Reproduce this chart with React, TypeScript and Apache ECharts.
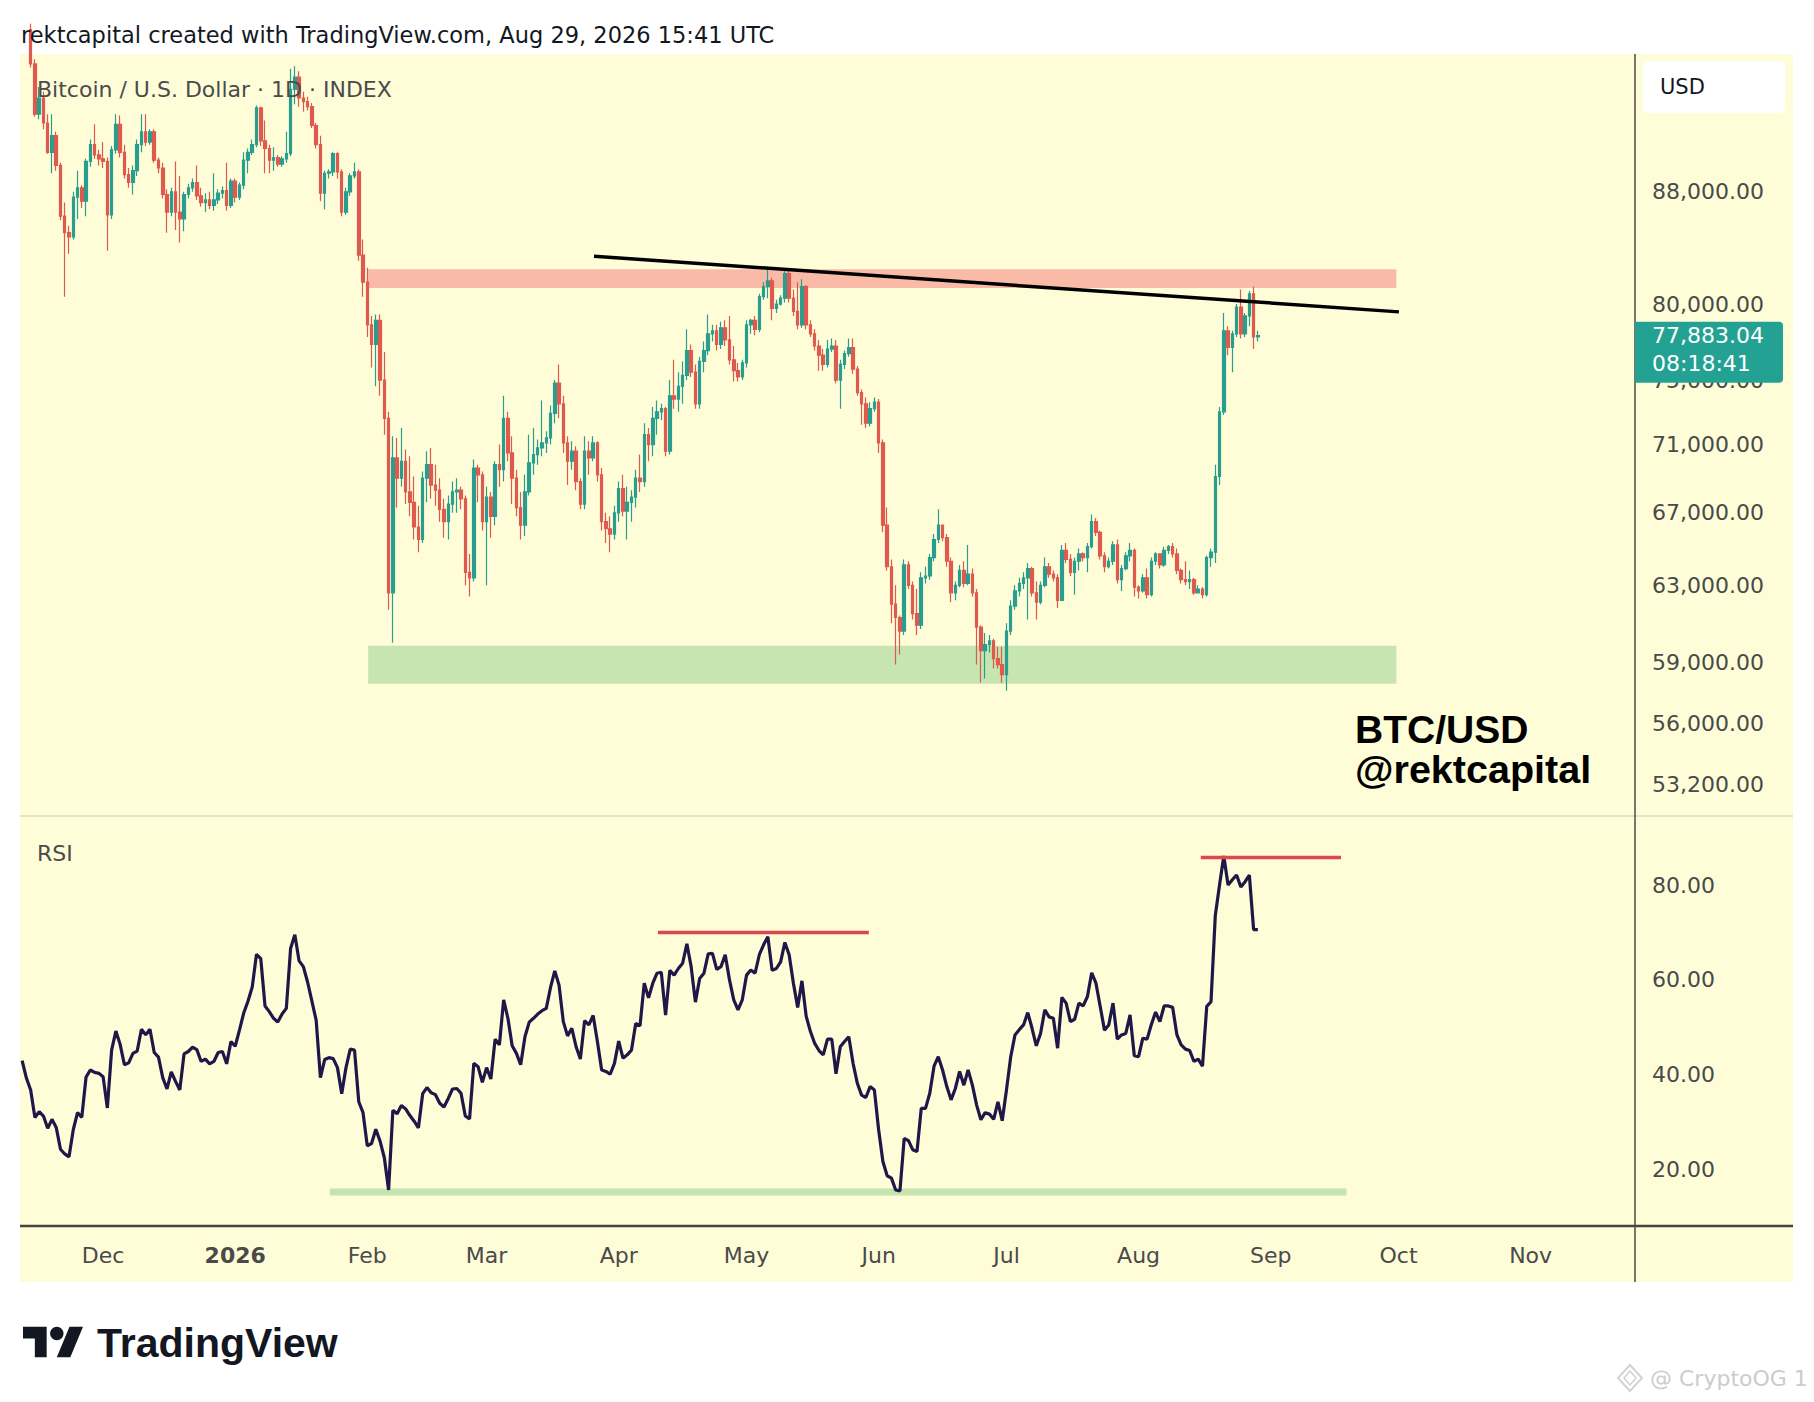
import React, { useEffect, useRef } from "react";
import * as echarts from "echarts";

// ---------- data ----------
const START_UTC = Date.UTC(2025, 10, 12); // first daily candle: 12 Nov 2025
const AXIS_DAYS = 379; // time axis runs to late Nov 2026

// daily candles, USD thousands (open of a day = previous close)
const firstOpenK = 104.5;
const closeK = [
  103.2, 101.0, 98.1, 94.0, 95.3, 93.3, 91.0, 92.3, 90.0, 86.2,
  85.0, 84.7, 87.6, 88.3, 87.3, 90.3, 91.6, 90.8, 90.5, 90.3,
  86.3, 91.2, 93.2, 91.0, 89.3, 88.7, 89.6, 91.6, 92.6, 91.8,
  92.6, 90.4, 89.8, 87.8, 86.5, 88.0, 86.5, 86.0, 87.8, 88.3,
  88.7, 87.7, 87.2, 87.4, 87.0, 87.4, 87.9, 88.1, 87.0, 88.8,
  87.6, 88.5, 90.4, 91.0, 91.6, 94.5, 91.9, 91.3, 90.4, 90.6,
  90.1, 90.5, 90.9, 96.0, 97.0, 95.3, 95.0, 94.6, 93.1, 91.6,
  87.9, 89.4, 89.5, 90.9, 89.5, 86.5, 88.0, 89.2, 89.5, 83.4,
  81.5, 78.6, 77.3, 78.9, 75.0, 72.6, 62.6, 70.2, 69.0, 70.0,
  68.2, 67.6, 66.2, 65.5, 69.0, 69.8, 68.6, 68.3, 67.2, 66.5,
  67.5, 68.2, 68.3, 67.8, 63.7, 63.4, 69.6, 69.2, 66.5, 67.9,
  66.8, 69.8, 69.5, 72.6, 70.5, 69.0, 67.3, 66.3, 68.2, 69.9,
  70.4, 70.8, 71.1, 71.4, 72.9, 74.8, 73.5, 71.1, 70.0, 70.6,
  68.8, 67.5, 70.6, 70.2, 71.1, 69.2, 66.5, 66.1, 65.8, 67.0,
  68.4, 67.1, 67.6, 67.9, 69.0, 68.8, 71.6, 71.0, 72.6, 73.0,
  73.2, 70.6, 74.0, 73.8, 74.6, 75.3, 76.9, 75.5, 73.5, 76.2,
  76.9, 78.0, 78.2, 77.3, 78.4, 77.6, 76.3, 75.6, 75.2, 76.1,
  78.6, 78.9, 78.3, 80.5, 81.2, 81.6, 79.7, 80.0, 80.4, 82.1,
  80.4, 79.5, 78.6, 81.2, 78.6, 78.0, 77.2, 76.6, 76.0, 77.0,
  77.2, 75.0, 76.0, 76.7, 77.1, 75.7, 74.2, 73.5, 72.3, 73.2,
  73.6, 71.1, 66.3, 64.0, 62.0, 61.3, 60.6, 64.1, 63.0, 61.5,
  60.9, 63.4, 63.5, 64.5, 65.5, 66.3, 65.6, 64.3, 62.6, 63.0,
  63.8, 63.1, 63.6, 62.6, 60.8, 59.6, 59.9, 60.1, 59.2, 58.9,
  58.4, 60.6, 61.9, 62.7, 63.1, 63.4, 63.9, 62.6, 62.1, 63.0,
  64.0, 63.6, 63.4, 62.2, 64.9, 64.4, 63.7, 64.3, 64.7, 64.5,
  65.1, 66.5, 65.9, 64.6, 64.0, 64.3, 65.2, 63.3, 63.9, 64.6,
  64.9, 62.9, 62.7, 63.4, 62.5, 64.3, 64.7, 64.1, 64.9, 65.1,
  64.7, 63.8, 63.3, 63.2, 63.3, 62.6, 62.8, 62.5, 64.5, 64.8,
  69.1, 73.0, 78.2, 77.1, 78.0, 79.8, 78.0, 79.2, 80.7, 77.8, 77.88304,
];
const highK = [
  106.0, 104.0, 101.5, 98.5, 96.2, 95.8, 94.0, 94.0, 92.6, 90.2,
  87.2, 85.5, 88.0, 89.6, 88.5, 90.5, 92.0, 93.2, 91.2, 91.8,
  90.6, 91.5, 94.0, 93.9, 91.6, 89.8, 90.0, 92.0, 94.0, 94.0,
  92.8, 92.8, 90.6, 90.2, 88.2, 88.3, 90.3, 89.2, 88.0, 88.6,
  89.0, 90.0, 88.3, 87.9, 88.0, 89.4, 88.2, 88.4, 90.2, 89.0,
  89.0, 88.7, 91.0, 91.3, 92.0, 94.7, 94.6, 93.5, 91.6, 91.4,
  90.8, 90.7, 92.6, 97.7, 97.9, 97.5, 95.8, 95.4, 94.9, 93.3,
  92.3, 89.6, 89.7, 91.0, 91.0, 89.7, 88.3, 89.4, 90.2, 89.7,
  84.5, 82.5, 79.2, 79.3, 79.3, 76.8, 73.0, 71.5, 71.4, 72.0,
  70.7, 70.3, 69.1, 67.4, 69.4, 70.6, 70.8, 69.8, 69.0, 67.8,
  68.0, 68.8, 69.0, 68.5, 68.0, 64.7, 70.1, 69.8, 69.4, 68.5,
  68.2, 70.0, 71.0, 74.0, 73.0, 71.5, 69.5, 68.2, 69.2, 71.6,
  72.0, 71.3, 73.7, 71.8, 73.4, 75.0, 76.0, 74.0, 71.5, 71.2,
  70.9, 69.0, 71.5, 71.2, 71.5, 71.2, 69.6, 67.0, 66.8, 67.4,
  68.8, 69.2, 68.5, 68.3, 69.5, 70.4, 72.3, 72.0, 73.3, 73.7,
  73.5, 73.3, 75.0, 76.3, 75.5, 76.2, 78.3, 77.3, 76.0, 76.5,
  77.5, 79.3, 78.6, 78.6, 78.8, 78.9, 79.2, 77.2, 76.1, 76.3,
  78.9, 79.0, 79.2, 80.7, 81.5, 82.6, 81.8, 80.3, 80.6, 82.3,
  82.3, 81.0, 81.5, 81.7, 81.3, 78.9, 78.3, 77.6, 77.0, 77.6,
  77.7, 77.6, 76.3, 76.9, 77.7, 77.7, 75.9, 74.4, 73.9, 73.6,
  73.9, 73.8, 71.3, 67.3, 64.4, 63.0, 61.4, 64.4, 64.3, 63.2,
  62.8, 63.7, 64.0, 64.7, 65.8, 67.2, 66.3, 65.8, 64.5, 63.2,
  64.1, 64.3, 65.2, 63.9, 62.8, 60.9, 60.5, 60.4, 60.2, 59.8,
  59.8, 61.0, 62.2, 63.0, 63.4, 63.7, 64.2, 64.0, 63.2, 63.2,
  64.5, 64.2, 63.8, 63.6, 65.2, 65.3, 64.7, 64.5, 65.0, 64.8,
  65.3, 66.9, 66.7, 66.0, 64.8, 64.5, 65.4, 65.5, 64.1, 64.8,
  65.3, 65.0, 63.0, 63.6, 63.9, 64.5, 64.8, 64.7, 65.1, 65.2,
  65.3, 65.0, 63.9, 64.3, 63.8, 63.4, 63.0, 62.9, 64.6, 65.0,
  69.8, 73.3, 79.4, 78.5, 78.2, 80.0, 81.0, 79.4, 80.9, 81.2, 78.2,
];
const lowK = [
  102.5, 99.6, 97.8, 93.8, 93.6, 92.8, 90.9, 89.4, 89.6, 85.9,
  80.5, 83.5, 84.5, 86.0, 86.8, 86.2, 89.9, 90.5, 90.0, 89.8,
  83.7, 86.0, 90.9, 90.6, 89.0, 88.3, 87.8, 89.2, 91.0, 91.5,
  91.6, 90.2, 89.4, 87.5, 85.0, 86.2, 85.2, 84.3, 85.1, 87.5,
  88.0, 87.4, 86.9, 86.5, 86.7, 86.6, 87.1, 87.5, 86.6, 86.8,
  87.2, 87.4, 88.2, 89.4, 90.8, 91.4, 91.5, 89.4, 89.4, 89.6,
  89.9, 89.9, 90.2, 90.7, 94.8, 94.6, 94.2, 94.3, 92.9, 91.3,
  87.3, 86.7, 89.0, 89.2, 89.0, 86.2, 86.3, 87.7, 89.0, 83.0,
  80.5, 77.8, 75.8, 74.6, 74.0, 71.6, 61.7, 60.0, 67.3, 68.5,
  67.5, 66.8, 65.5, 64.8, 65.3, 67.6, 67.8, 67.4, 66.5, 65.6,
  65.5, 67.0, 67.0, 67.2, 63.0, 62.4, 63.2, 67.6, 66.0, 63.0,
  65.6, 66.3, 68.5, 68.8, 70.0, 67.5, 66.8, 65.5, 65.7, 68.0,
  69.2, 69.8, 70.3, 70.5, 71.0, 72.3, 72.6, 70.5, 68.6, 69.5,
  68.3, 67.2, 67.2, 69.2, 70.0, 68.8, 66.0, 65.3, 64.8, 65.5,
  66.5, 66.8, 65.5, 66.5, 67.3, 68.2, 68.5, 70.0, 70.3, 71.6,
  72.5, 70.3, 70.4, 73.2, 73.0, 73.5, 75.0, 75.2, 73.2, 73.2,
  75.5, 76.6, 77.5, 76.9, 77.0, 77.2, 76.0, 74.9, 74.9, 75.0,
  75.8, 78.0, 77.9, 78.1, 80.3, 80.4, 78.9, 79.4, 79.9, 80.1,
  80.1, 79.2, 78.3, 78.4, 78.3, 77.8, 76.9, 75.6, 75.6, 75.8,
  76.8, 74.8, 73.2, 75.7, 76.5, 75.4, 74.0, 72.2, 72.0, 72.1,
  73.0, 70.5, 65.9, 63.8, 61.0, 58.9, 59.4, 60.4, 62.8, 61.2,
  60.4, 60.7, 63.1, 63.3, 64.3, 65.3, 65.4, 64.0, 62.1, 62.2,
  62.9, 62.9, 63.0, 62.4, 58.9, 58.0, 58.2, 59.5, 58.7, 58.7,
  58.0, 57.6, 60.4, 61.7, 62.4, 62.8, 61.2, 62.4, 61.2, 62.0,
  62.9, 63.4, 63.2, 61.8, 62.2, 64.2, 63.5, 62.5, 63.8, 64.3,
  63.7, 65.0, 65.7, 64.4, 63.7, 63.9, 64.1, 63.1, 62.7, 63.8,
  64.3, 62.4, 62.3, 62.6, 62.3, 62.4, 64.1, 63.9, 64.0, 64.7,
  64.5, 63.6, 63.1, 63.0, 62.8, 62.5, 62.6, 62.3, 62.4, 64.0,
  64.2, 68.6, 72.8, 76.6, 75.5, 77.8, 77.7, 77.8, 78.5, 77.0, 77.5,
];
const rsi = [
  43.0, 39.3, 36.8, 31.0, 32.2, 31.3, 28.7, 30.6, 28.9, 24.3,
  23.3, 22.7, 28.4, 32.0, 31.0, 39.5, 41.0, 40.5, 40.3, 39.6,
  33.0, 45.2, 49.2, 46.4, 42.1, 42.5, 44.5, 45.0, 49.6, 48.4,
  49.6, 44.7, 43.7, 39.4, 37.0, 40.6, 38.6, 36.8, 44.4, 44.9,
  45.8, 45.3, 42.8, 43.3, 42.3, 42.8, 44.7, 44.9, 42.3, 47.0,
  46.0, 49.4, 53.0, 55.5, 58.5, 65.4, 64.5, 54.5, 53.3, 51.9,
  51.1, 52.8, 54.0, 66.6, 69.5, 64.0, 62.8, 59.5, 55.5, 51.5,
  39.4, 43.2, 43.6, 43.4, 41.5, 36.0, 41.5, 45.4, 45.2, 34.3,
  32.0, 25.0, 25.5, 28.5, 26.0, 22.5, 15.7, 32.5, 31.8, 33.5,
  32.8, 31.4, 30.2, 28.8, 36.0, 37.3, 36.2, 35.8, 34.0, 33.2,
  35.0, 37.0, 37.1, 36.1, 31.3, 30.7, 42.4, 41.7, 38.4, 41.5,
  39.1, 47.5, 46.3, 55.8, 51.9, 46.1, 44.5, 42.1, 48.0, 51.1,
  51.9, 52.8, 53.5, 54.0, 58.4, 61.9, 58.9, 51.2, 48.2, 49.8,
  45.9, 43.3, 51.4, 50.5, 52.5, 47.0, 41.0, 40.7, 40.1, 42.4,
  47.1, 43.5, 44.2, 45.2, 50.8, 50.3, 59.3, 56.2, 59.3, 61.4,
  61.6, 52.6, 62.0, 61.0, 62.4, 63.5, 67.6, 62.8, 55.3, 60.3,
  61.4, 65.5, 65.6, 62.2, 62.8, 65.3, 60.0, 55.8, 53.7, 55.8,
  61.0, 62.1, 61.4, 65.3, 67.4, 69.1, 62.0, 62.4, 63.8, 67.9,
  65.3, 59.3, 54.2, 59.8, 52.3, 49.1, 46.6, 45.1, 44.2, 47.5,
  47.5, 40.2, 45.9, 47.0, 48.0, 42.4, 38.2, 35.7, 35.2, 37.5,
  36.8, 28.4, 21.7, 18.7, 18.2, 15.7, 15.5, 26.6, 26.1, 24.2,
  23.8, 32.9, 32.9, 36.1, 41.8, 43.8, 41.0, 37.5, 34.7, 37.1,
  40.7, 37.8, 41.0, 37.8, 33.6, 30.5, 32.0, 31.7, 30.6, 34.3,
  30.3, 36.8, 43.8, 48.4, 49.5, 50.5, 53.1, 49.8, 46.1, 48.7,
  53.7, 52.2, 51.9, 45.6, 56.3, 55.1, 51.2, 51.7, 55.1, 54.5,
  56.5, 61.5, 59.3, 54.4, 49.4, 50.5, 55.1, 47.5, 48.4, 48.7,
  52.6, 44.0, 43.8, 47.7, 47.5, 50.6, 53.2, 51.2, 54.5, 54.5,
  54.2, 48.4, 46.3, 45.4, 45.1, 42.8, 43.3, 41.8, 54.4, 55.4,
  73.5, 80.0, 86.1, 80.0, 81.1, 82.1, 79.6, 80.7, 82.1, 70.6, 70.6,
];

// axis ticks
const priceTicks = [53200, 56000, 59000, 63000, 67000, 71000, 75000, 80000, 88000];
const rsiTicks = [20, 40, 60, 80];
const monthDates = ["2025-12-01", "2026-01-01", "2026-02-01", "2026-03-01", "2026-04-01", "2026-05-01", "2026-06-01", "2026-07-01", "2026-08-01", "2026-09-01", "2026-10-01", "2026-11-01"];
const monthLabels = ["Dec", "2026", "Feb", "Mar", "Apr", "May", "Jun", "Jul", "Aug", "Sep", "Oct", "Nov"];

// drawings (x = day index on the time axis)
const bandDays = [81.2, 322.5];
const resistanceBand = [81100, 82400];
const supportBand = [57950, 59850];
const trendLine = [[134.2, 83320], [323.1, 79470]];
const rsiTopLineA = [[149.2, 70.0], [198.7, 70.0]];
const rsiTopLineB = [[276.6, 85.8], [309.5, 85.8]];
const rsiFloorLine = [[72.2, 15.3], [310.8, 15.3]];
const lastPrice = 77883.04;
const countdown = "08:18:41";

// ---------- styling ----------
const BG = "#FEFDD8";
const UP = "#2A9D8F";
const DOWN = "#DE5A4F";
const FONT = '"DejaVu Sans", sans-serif';
const AXIS_TEXT = "#4a4a4a";
const TV_LOGO =
  "M14 22H7V11H0V4h14v18zM28 22h-8l7.5-18h8L28 22zM16 8a4 4 0 1 0 8 0a4 4 0 1 0 -8 0z";

function fmtPrice(v: number) {
  return v.toLocaleString("en-US", { minimumFractionDigits: 2, maximumFractionDigits: 2 });
}

export default function App() {
  const ref = useRef<HTMLDivElement>(null);

  useEffect(() => {
    if (!ref.current) return;
    try {
      echarts.graphic.registerShape("tvlogo", echarts.graphic.extendPath(TV_LOGO, {}));
    } catch (e) {}
    const chart = echarts.init(ref.current, undefined, { renderer: "svg", width: 1814, height: 1402 });

    const dates: string[] = [];
    for (let i = 0; i < AXIS_DAYS; i++) {
      dates.push(new Date(START_UTC + i * 86400000).toISOString().slice(0, 10));
    }
    const monthMap: Record<string, string> = {};
    monthDates.forEach((d, i) => (monthMap[d] = monthLabels[i]));

    const openK = [firstOpenK, ...closeK.slice(0, -1)];
    const candles = closeK.map((c, i) => {
      const o = openK[i];
      const lo = Math.min(lowK[i], o, c);
      const hi = Math.max(highK[i], o, c);
      return [o * 1000, c * 1000, lo * 1000, hi * 1000];
    });

    const priceLabel = {
      customValues: priceTicks,
      formatter: (v: number) => fmtPrice(v < 1000 ? Math.round(Math.pow(10, v)) : v),
      color: AXIS_TEXT,
      fontFamily: FONT,
      fontSize: 22,
      margin: 17,
    };

    chart.setOption({
      animation: false,
      backgroundColor: "transparent",
      grid: [
        { left: 20, top: 54, width: 1615, height: 762 },
        { left: 20, top: 816, width: 1615, height: 410 },
      ],
      xAxis: [
        { type: "category", gridIndex: 0, data: dates, boundaryGap: true, show: false },
        {
          type: "category",
          gridIndex: 1,
          data: dates,
          boundaryGap: true,
          axisLine: { show: false },
          axisTick: { show: false },
          splitLine: { show: false },
          axisLabel: {
            interval: (_i: number, v: string) => !!monthMap[v],
            formatter: (v: string) => (monthMap[v] === "2026" ? "{b|2026}" : monthMap[v] || ""),
            color: AXIS_TEXT,
            fontFamily: FONT,
            fontSize: 22,
            margin: 18,
            rich: { b: { fontWeight: "bold", color: AXIS_TEXT, fontFamily: FONT, fontSize: 22 } },
          },
        },
        { type: "value", gridIndex: 0, min: -0.5, max: AXIS_DAYS - 0.5, show: false },
        { type: "value", gridIndex: 1, min: -0.5, max: AXIS_DAYS - 0.5, show: false },
      ],
      yAxis: [
        {
          type: "log",
          logBase: 10,
          gridIndex: 0,
          position: "right",
          min: 51790,
          max: 98930,
          axisLine: { show: false },
          axisTick: { show: false },
          splitLine: { show: false },
          axisLabel: priceLabel,
        },
        {
          type: "value",
          gridIndex: 1,
          position: "right",
          min: 8.11,
          max: 94.55,
          axisLine: { show: false },
          axisTick: { show: false },
          splitLine: { show: false },
          axisLabel: {
            customValues: rsiTicks,
            formatter: (v: number) => v.toFixed(2),
            color: AXIS_TEXT,
            fontFamily: FONT,
            fontSize: 22,
            margin: 17,
          },
        },
      ],
      series: [
        {
          name: "zones",
          type: "line",
          xAxisIndex: 2,
          yAxisIndex: 0,
          data: [],
          z: 1,
          silent: true,
          markArea: {
            silent: true,
            label: { show: false },
            data: [
              [
                { coord: [bandDays[0], resistanceBand[1]], itemStyle: { color: "#F9BBA7", opacity: 1 } },
                { coord: [bandDays[1], resistanceBand[0]] },
              ],
              [
                { coord: [bandDays[0], supportBand[1]], itemStyle: { color: "#C6E5B1", opacity: 1 } },
                { coord: [bandDays[1], supportBand[0]] },
              ],
            ],
          },
        },
        {
          name: "BTCUSD",
          type: "candlestick",
          xAxisIndex: 0,
          yAxisIndex: 0,
          data: candles,
          barWidth: 3,
          z: 2,
          itemStyle: { color: UP, color0: DOWN, borderColor: UP, borderColor0: DOWN, borderWidth: 1.2 },
        },
        {
          name: "trend",
          type: "line",
          xAxisIndex: 2,
          yAxisIndex: 0,
          data: trendLine,
          symbol: "none",
          z: 4,
          lineStyle: { color: "#000000", width: 3.5 },
        },
        {
          name: "rsiFloor",
          type: "line",
          xAxisIndex: 3,
          yAxisIndex: 1,
          data: rsiFloorLine,
          symbol: "none",
          z: 1,
          lineStyle: { color: "#C5E4B0", width: 7 },
        },
        {
          name: "RSI",
          type: "line",
          xAxisIndex: 1,
          yAxisIndex: 1,
          data: rsi,
          symbol: "none",
          z: 3,
          lineStyle: { color: "#1F1748", width: 3.2 },
        },
        {
          name: "rsiTopA",
          type: "line",
          xAxisIndex: 3,
          yAxisIndex: 1,
          data: rsiTopLineA,
          symbol: "none",
          z: 4,
          lineStyle: { color: "#DE474C", width: 3.6 },
        },
        {
          name: "rsiTopB",
          type: "line",
          xAxisIndex: 3,
          yAxisIndex: 1,
          data: rsiTopLineB,
          symbol: "none",
          z: 4,
          lineStyle: { color: "#DE474C", width: 3.6 },
        },
      ],
      graphic: {
        elements: [
          { id: "bg", type: "rect", silent: true, z: -10, shape: { x: 20, y: 54, width: 1773, height: 1228 }, style: { fill: BG } },
          { id: "sep", type: "line", silent: true, z: 5, shape: { x1: 20, y1: 816, x2: 1793, y2: 816 }, style: { stroke: "#DAD9CB", lineWidth: 1.5 } },
          { id: "base", type: "line", silent: true, z: 5, shape: { x1: 20, y1: 1226, x2: 1793, y2: 1226 }, style: { stroke: "#46443A", lineWidth: 2.5 } },
          { id: "vax", type: "line", silent: true, z: 5, shape: { x1: 1635, y1: 54, x2: 1635, y2: 1282 }, style: { stroke: "#4A4A45", lineWidth: 1.5 } },
          { id: "usdbox", type: "rect", silent: true, z: 5, shape: { x: 1643, y: 61, width: 142, height: 52, r: 6 }, style: { fill: "#ffffff" } },
          { id: "usd", type: "text", silent: true, z: 6, x: 1660, y: 87, style: { text: "USD", fill: "#131722", fontFamily: FONT, fontSize: 21, verticalAlign: "middle", textVerticalAlign: "middle" } },
          { id: "title", type: "text", silent: true, z: 6, x: 21, y: 35, style: { text: "rektcapital created with TradingView.com, Aug 29, 2026 15:41 UTC", fill: "#131722", fontFamily: FONT, fontSize: 22.5, verticalAlign: "middle", textVerticalAlign: "middle" } },
          { id: "sym", type: "text", silent: true, z: 6, x: 37, y: 89, style: { text: "Bitcoin / U.S. Dollar · 1D · INDEX", fill: "#4b4b4b", fontFamily: FONT, fontSize: 22, verticalAlign: "middle", textVerticalAlign: "middle" } },
          { id: "rsilab", type: "text", silent: true, z: 6, x: 37, y: 853, style: { text: "RSI", fill: "#4b4b4b", fontFamily: FONT, fontSize: 22, verticalAlign: "middle", textVerticalAlign: "middle" } },
          { id: "pair", type: "text", silent: true, z: 6, x: 1355, y: 729, style: { text: "BTC/USD", fill: "#000000", fontFamily: '"Liberation Sans", Arial, sans-serif', fontWeight: "bold", fontSize: 39, verticalAlign: "middle", textVerticalAlign: "middle" } },
          { id: "handle", type: "text", silent: true, z: 6, x: 1355, y: 769, style: { text: "@rektcapital", fill: "#000000", fontFamily: '"Liberation Sans", Arial, sans-serif', fontWeight: "bold", fontSize: 39.5, verticalAlign: "middle", textVerticalAlign: "middle" } },
          { id: "logo", type: "tvlogo", silent: true, z: 6, x: 23, y: 1320, scaleX: 1.69, scaleY: 1.69, style: { fill: "#131722" } },
          { id: "tv", type: "text", silent: true, z: 6, x: 97, y: 1343, style: { text: "TradingView", fill: "#131722", fontFamily: '"Liberation Sans", Arial, sans-serif', fontWeight: "bold", fontSize: 41, verticalAlign: "middle", textVerticalAlign: "middle" } },
          { id: "wmA", type: "polygon", silent: true, z: 6, shape: { points: [[1630, 1365], [1642, 1378], [1630, 1391], [1618, 1378]] }, style: { fill: "none", stroke: "#d2d2d2", lineWidth: 2 } },
          { id: "wmB", type: "polygon", silent: true, z: 6, shape: { points: [[1630, 1371], [1636, 1378], [1630, 1385], [1624, 1378]] }, style: { fill: "none", stroke: "#d2d2d2", lineWidth: 1.5 } },
          { id: "wm", type: "text", silent: true, z: 6, x: 1650, y: 1378, style: { text: "@ CryptoOG 1", fill: "#cccccc", fontFamily: FONT, fontSize: 22, verticalAlign: "middle", textVerticalAlign: "middle" } },
        ],
      },
    });

    const yPix = chart.convertToPixel({ yAxisIndex: 0 }, lastPrice) as unknown as number;
    if (typeof yPix === "number" && isFinite(yPix)) {
      chart.setOption({
        graphic: {
          elements: [
            { id: "tag", type: "rect", silent: true, z: 7, shape: { x: 1635, y: yPix - 14, width: 148, height: 61, r: [0, 4, 4, 0] }, style: { fill: "#23A294" } },
            { id: "tagP", type: "text", silent: true, z: 8, x: 1652, y: yPix, style: { text: fmtPrice(lastPrice), fill: "#ffffff", fontFamily: FONT, fontSize: 22, verticalAlign: "middle", textVerticalAlign: "middle" } },
            { id: "tagT", type: "text", silent: true, z: 8, x: 1652, y: yPix + 28, style: { text: countdown, fill: "#ffffff", fontFamily: FONT, fontSize: 22, verticalAlign: "middle", textVerticalAlign: "middle" } },
          ],
        },
      });
    }

    return () => chart.dispose();
  }, []);

  return (
    <div style={{ position: "absolute", left: 0, top: 0, width: 1814, height: 1402, background: "#ffffff" }}>
      <div ref={ref} style={{ width: 1814, height: 1402 }} />
    </div>
  );
}
